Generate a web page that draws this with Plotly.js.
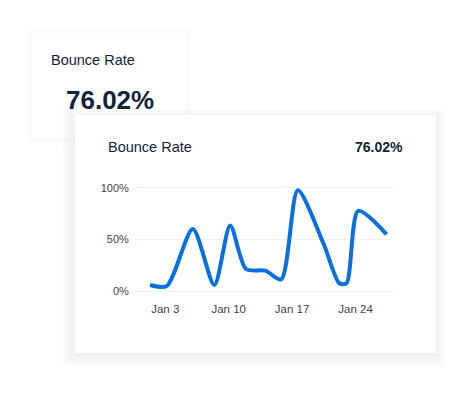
<!DOCTYPE html>
<html>
<head>
<meta charset="utf-8">
<script src="https://cdn.plot.ly/plotly-3.0.1.min.js"></script>
<style>
html,body{margin:0;padding:0;background:#fff;}
#chart{width:474px;height:395px;}
</style>
</head>
<body>
<div id="chart"></div>
<script>
// ---- data ----
var dates = ['2023-01-01 08:00','2023-01-03 04:00','2023-01-06 01:00','2023-01-08 10:00','2023-01-10 04:00',
             '2023-01-11 22:00','2023-01-14 01:00','2023-01-15 19:00','2023-01-17 15:00','2023-01-20 11:00',
             '2023-01-22 05:00','2023-01-23 00:00','2023-01-24 07:00','2023-01-27 10:00'];
var bounceRate = [5.8, 4.8, 60, 5.8, 63.5, 21.3, 19.7, 11.3, 97.5, 46, 7.5, 7.5, 77.5, 54.9];
var xTickVals = ['2023-01-03','2023-01-10','2023-01-17','2023-01-24'];
var xTickText = ['Jan 3','Jan 10','Jan 17','Jan 24'];
var yTickVals = [0, 50, 100];
var yTickText = ['0%','50%','100%'];
var cardTitle = 'Bounce Rate';
var cardValue = '76.02%';

// ---- layout helpers (pixel -> paper) ----
var W = 474, H = 395;
var L = 135, R = 393, T = 180, B = 300;
function px(x){ return (x - L) / (R - L); }
function py(y){ return (B - y) / (B - T); }
function rect(x0,y0,x1,y1,fill){
  return {type:'rect', xref:'paper', yref:'paper', layer:'below',
    x0:px(x0), x1:px(x1), y0:py(y1), y1:py(y0),
    fillcolor:fill, line:{width:0, color:'rgba(0,0,0,0)'}};
}
var shapes = [];
// back card shadow
for (var i = 6; i >= 1; i--) {
  shapes.push(rect(32-i, 33-i+1, 186+i, 138+i+1, 'rgba(0,0,0,0.004)'));
}
shapes.push(rect(32, 33, 186, 138, '#ffffff'));
// front card shadow (soft, stronger to left/bottom)
for (var j = 14; j >= 1; j--) {
  shapes.push(rect(75-j, 115-j*0.4, 436+j*0.8, 353+j*1.2, 'rgba(0,0,0,0.0042)'));
}
shapes.push(rect(75, 115, 436, 353, '#ffffff'));

var navy = '#13243a';
var font = 'Liberation Sans, Arial, sans-serif';
var annotations = [
  {text:cardTitle, xref:'paper', yref:'paper', x:px(48.5), y:py(60), xanchor:'left', yanchor:'middle',
   showarrow:false, font:{family:font, size:14.5, color:navy}},
  {text:'<b>'+cardValue+'</b>', xref:'paper', yref:'paper', x:px(64), y:py(99.5), xanchor:'left', yanchor:'middle',
   showarrow:false, font:{family:font, size:26, color:navy}},
  {text:cardTitle, xref:'paper', yref:'paper', x:px(106), y:py(146.5), xanchor:'left', yanchor:'middle',
   showarrow:false, font:{family:font, size:14.5, color:navy}},
  {text:'<b>'+cardValue+'</b>', xref:'paper', yref:'paper', x:px(405), y:py(146.5), xanchor:'right', yanchor:'middle',
   showarrow:false, font:{family:font, size:14, color:navy}}
];

var trace = {
  x: dates, y: bounceRate, type:'scatter', mode:'lines',
  line:{color:'#0a6fdf', width:4, shape:'spline', smoothing:0.75},
  hoverinfo:'skip', cliponaxis:false
};

var layout = {
  width:W, height:H,
  margin:{l:L, r:W-R, t:T, b:H-B, pad:0},
  paper_bgcolor:'#ffffff', plot_bgcolor:'rgba(0,0,0,0)',
  showlegend:false,
  xaxis:{type:'date', range:['2022-12-30 16:00','2023-01-28 03:00'],
    tickvals:xTickVals, ticktext:xTickText, showgrid:false, zeroline:false, showline:false,
    ticks:'', tickfont:{family:font, size:11.5, color:'#3d4450'}, fixedrange:true},
  yaxis:{range:[-8.7, 107.45], tickvals:yTickVals, ticktext:yTickText,
    showgrid:true, gridcolor:'#efefef', gridwidth:1, zeroline:false, showline:false,
    ticks:'outside', ticklen:3, tickcolor:'rgba(0,0,0,0)',
    tickfont:{family:font, size:11, color:'#3d4450'}, fixedrange:true},
  shapes:shapes,
  annotations:annotations
};

Plotly.newPlot('chart', [trace], layout, {staticPlot:true, displayModeBar:false});
</script>
</body>
</html>
